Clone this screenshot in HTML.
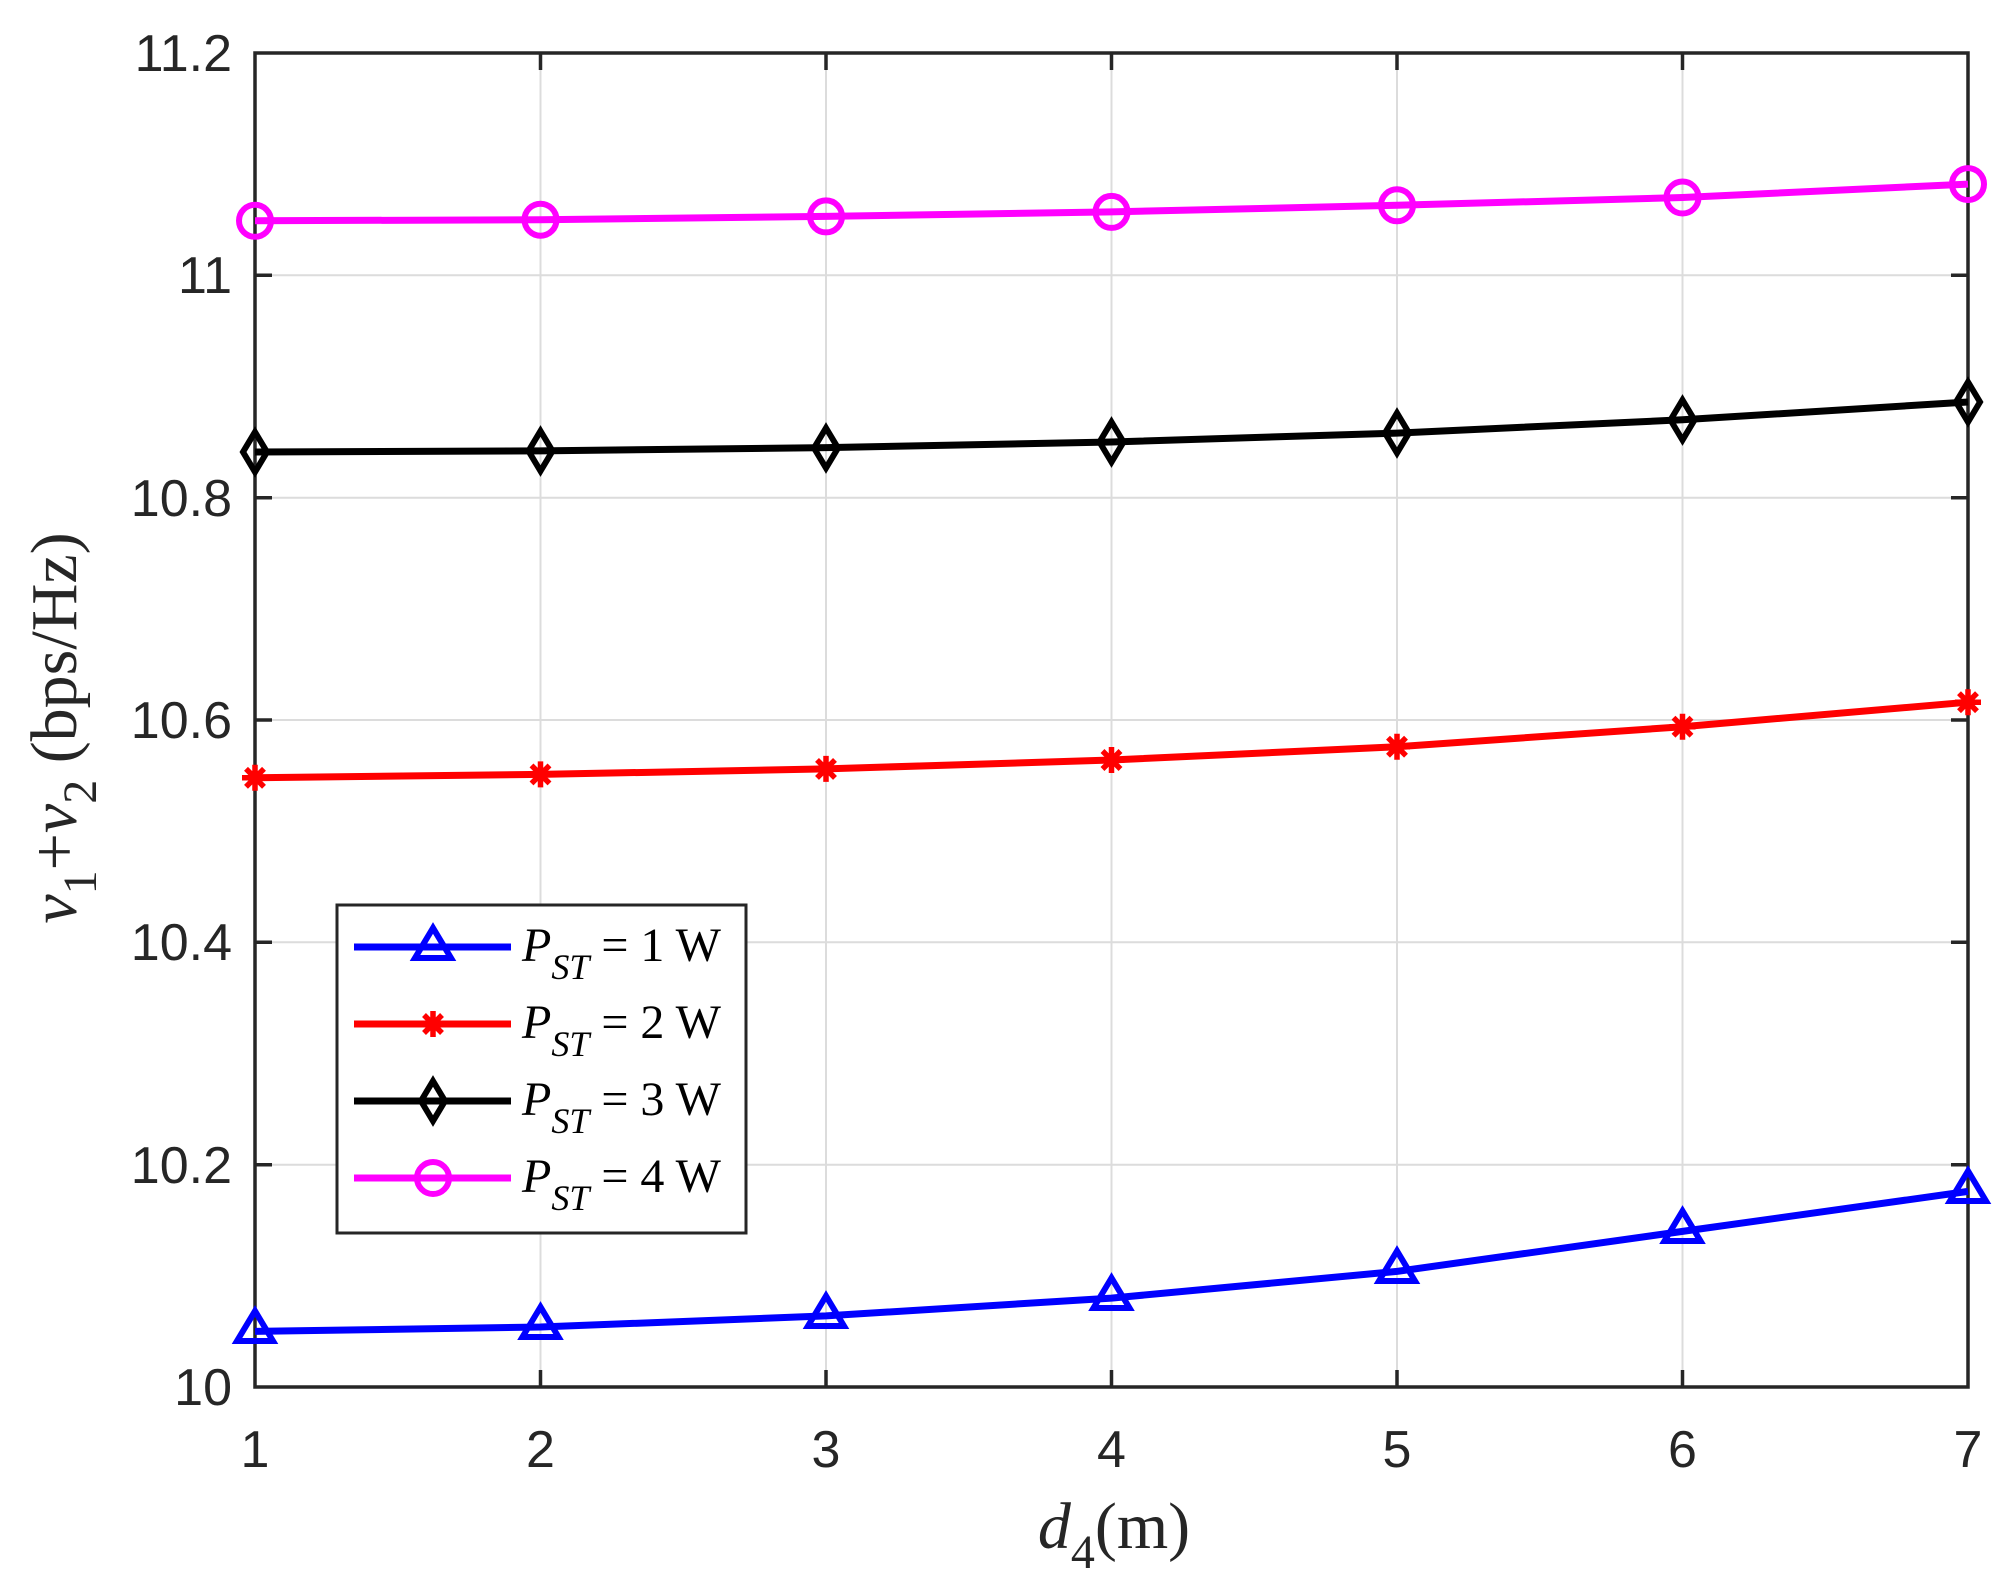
<!DOCTYPE html><html><head><style>body{margin:0;background:#fff}</style></head><body>
<svg width="2013" height="1588" xmlns="http://www.w3.org/2000/svg">
<defs><path id="ast" d="M-13 0h26M0-13v26M-9-9l18 18M-9 9l18-18" stroke="#ff0000" stroke-width="5.5" fill="none"/></defs>
<rect width="2013" height="1588" fill="#fff"/>
<g stroke="#dcdcdc" stroke-width="2">
<line x1="540.5" y1="53" x2="540.5" y2="1387"/><line x1="826" y1="53" x2="826" y2="1387"/><line x1="1111.5" y1="53" x2="1111.5" y2="1387"/><line x1="1397" y1="53" x2="1397" y2="1387"/><line x1="1682.5" y1="53" x2="1682.5" y2="1387"/>
<line x1="255" y1="1164.7" x2="1968" y2="1164.7"/><line x1="255" y1="942.3" x2="1968" y2="942.3"/><line x1="255" y1="720" x2="1968" y2="720"/><line x1="255" y1="497.7" x2="1968" y2="497.7"/><line x1="255" y1="275.3" x2="1968" y2="275.3"/>
</g>
<g stroke="#262626" stroke-width="3.5">
<rect x="255" y="53" width="1713" height="1334" fill="none"/>
<path d="M540.5 1387v-17M826 1387v-17M1111.5 1387v-17M1397 1387v-17M1682.5 1387v-17M540.5 53v17M826 53v17M1111.5 53v17M1397 53v17M1682.5 53v17M255 1164.7h17M255 942.3h17M255 720h17M255 497.7h17M255 275.3h17M1968 1164.7h-17M1968 942.3h-17M1968 720h-17M1968 497.7h-17M1968 275.3h-17"/>
</g>
<g font-family="Liberation Sans, sans-serif" font-size="52" fill="#262626">
<g text-anchor="end"><text x="232" y="1405">10</text><text x="232" y="1183">10.2</text><text x="232" y="960">10.4</text><text x="232" y="738">10.6</text><text x="232" y="516">10.8</text><text x="232" y="293">11</text><text x="232" y="71">11.2</text></g>
<g text-anchor="middle"><text x="255" y="1467">1</text><text x="540.5" y="1467">2</text><text x="826" y="1467">3</text><text x="1111.5" y="1467">4</text><text x="1397" y="1467">5</text><text x="1682.5" y="1467">6</text><text x="1968" y="1467">7</text></g>
</g>
<g font-family="Liberation Serif, serif" font-size="66" fill="#262626">
<text x="1114" y="1548" text-anchor="middle"><tspan font-style="italic">d</tspan><tspan font-size="48" dy="20">4</tspan><tspan dy="-20">(m)</tspan></text>
<text transform="translate(76,728) rotate(-90)" text-anchor="middle"><tspan font-style="italic">v</tspan><tspan font-size="48" dy="20">1</tspan><tspan dy="-20">+</tspan><tspan font-style="italic">v</tspan><tspan font-size="48" dy="20">2</tspan><tspan dy="-20"> (bps/Hz)</tspan></text>
</g>
<g fill="none" stroke-width="7">
<polyline stroke="#0000ff" points="255,1331.4 540.5,1327 826,1315.9 1111.5,1298.1 1397,1271.4 1682.5,1231.4 1968,1191.4"/>
<polyline stroke="#ff0000" points="255,777.8 540.5,774.4 826,768.9 1111.5,760 1397,746.7 1682.5,726.7 1968,702.2"/>
<polyline stroke="#000" points="255,452 540.5,450.9 826,447.6 1111.5,442 1397,433.1 1682.5,419.8 1968,402"/>
<polyline stroke="#ff00ff" points="255,220.8 540.5,219.7 826,216.4 1111.5,211.9 1397,205.3 1682.5,197.5 1968,184.1"/>
</g>
<g fill="none" stroke-width="6">
<g stroke="#0000ff"><path d="M255 1311l-18 30h36zM540.5 1307l-18 30h36zM826 1296l-18 30h36zM1111.5 1278l-18 30h36zM1397 1251l-18 30h36zM1682.5 1211l-18 30h36zM1968 1171l-18 30h36z"/></g>
<g stroke="#000"><path d="M255 432l12 20-12 20-12-20zM540.5 431l12 20-12 20-12-20zM826 428l12 20-12 20-12-20zM1111.5 422l12 20-12 20-12-20zM1397 413l12 20-12 20-12-20zM1682.5 400l12 20-12 20-12-20zM1968 382l12 20-12 20-12-20z"/></g>
<g stroke="#ff00ff"><circle cx="255" cy="220.8" r="16"/><circle cx="540.5" cy="219.7" r="16"/><circle cx="826" cy="216.4" r="16"/><circle cx="1111.5" cy="211.9" r="16"/><circle cx="1397" cy="205.3" r="16"/><circle cx="1682.5" cy="197.5" r="16"/><circle cx="1968" cy="184.1" r="16"/></g>
</g>
<use href="#ast" x="255" y="777.8"/><use href="#ast" x="540.5" y="774.4"/><use href="#ast" x="826" y="768.9"/><use href="#ast" x="1111.5" y="760"/><use href="#ast" x="1397" y="746.7"/><use href="#ast" x="1682.5" y="726.7"/><use href="#ast" x="1968" y="702.2"/>
<rect x="337" y="905" width="409" height="328" fill="#fff" stroke="#262626" stroke-width="3"/>
<g stroke-width="7" fill="none">
<line x1="354" y1="947" x2="511" y2="947" stroke="#0000ff"/><path d="M433 928l-18 30h36z" stroke="#0000ff" stroke-width="6"/>
<line x1="354" y1="1024" x2="511" y2="1024" stroke="#ff0000"/>
<line x1="354" y1="1101" x2="511" y2="1101" stroke="#000"/><path d="M433 1081l12 20-12 20-12-20z" stroke="#000" stroke-width="6"/>
<line x1="354" y1="1178" x2="511" y2="1178" stroke="#ff00ff"/><circle cx="433" cy="1178" r="16" stroke="#ff00ff" stroke-width="6"/>
</g>
<use href="#ast" x="433" y="1024"/>
<g font-family="Liberation Serif, serif" font-size="48" fill="#000">
<text x="522" y="961"><tspan font-style="italic">P</tspan><tspan font-style="italic" font-size="36" dy="18">ST</tspan><tspan dy="-18"> = 1 W</tspan></text>
<text x="522" y="1038"><tspan font-style="italic">P</tspan><tspan font-style="italic" font-size="36" dy="18">ST</tspan><tspan dy="-18"> = 2 W</tspan></text>
<text x="522" y="1115"><tspan font-style="italic">P</tspan><tspan font-style="italic" font-size="36" dy="18">ST</tspan><tspan dy="-18"> = 3 W</tspan></text>
<text x="522" y="1192"><tspan font-style="italic">P</tspan><tspan font-style="italic" font-size="36" dy="18">ST</tspan><tspan dy="-18"> = 4 W</tspan></text>
</g>
</svg></body></html>
